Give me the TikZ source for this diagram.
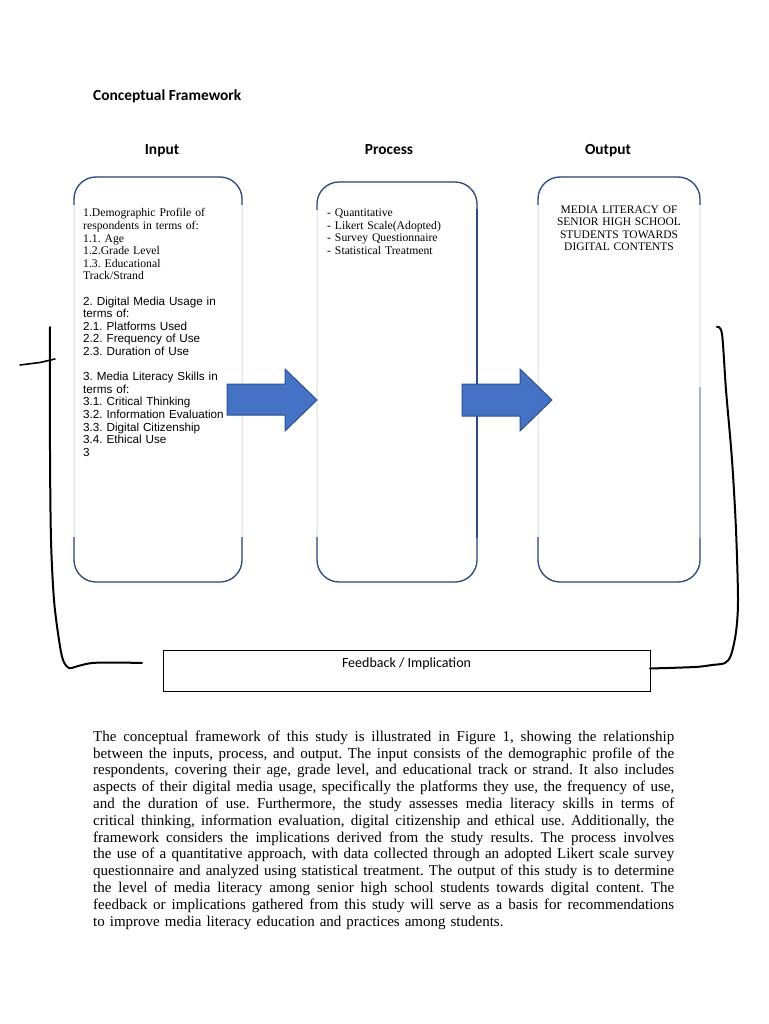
\documentclass[tikz,border=0pt]{standalone}
\usepackage{fontspec}
\setmainfont{Liberation Serif}
\setsansfont{Liberation Sans}
\newfontfamily\calibri{Carlito}
\usetikzlibrary{calc}
\definecolor{boxdark}{HTML}{2F4B7C}
\definecolor{boxmid}{HTML}{A9B4C8}
\definecolor{boxlight}{HTML}{D8DCE3}
\definecolor{arrowfill}{HTML}{4472C4}
\definecolor{arrowedge}{HTML}{2F528F}
\newcommand\jl[1]{\hbox to 581pt{\spaceskip=0.25em plus 0.6em minus 0.06em\relax #1}}
\frenchspacing
\begin{document}
\frenchspacing
\begin{tikzpicture}[x=1pt,y=-1pt,
  frame/.style={inner sep=0pt, outer sep=0pt},
  lightedge/.style={draw=boxlight, line width=1pt, rounded corners=22pt},
  darkedge/.style={draw=boxdark, line width=1.3pt, rounded corners=22pt},
  heading/.style={font=\calibri\bfseries\fontsize{15.4}{18}\selectfont, anchor=base, inner sep=0pt},
  boxtext/.style={inner sep=0pt, font=\fontsize{11.7}{12.6}\selectfont\frenchspacing},
  blockarrow/.style={fill=arrowfill, draw=arrowedge, line width=1pt},
  hand/.style={draw=black, line width=2pt, line cap=round, line join=round},
]
\useasboundingbox (0,0) rectangle (768,1024);
\fill[white] (0,0) rectangle (768,1024);

% title and headings
\node[heading, anchor=base west] (title) at (93,101) {Conceptual Framework};
\node[heading] (hin) at (162,155) {Input};
\node[heading] (hpr) at (389,155) {Process};
\node[heading] (hout) at (608,155) {Output};

% boxes
\node[frame, minimum width=168pt, minimum height=405pt] (in) at (158,379.5) {};
\node[frame, minimum width=160pt, minimum height=400pt] (pr) at (397,382) {};
\node[frame, minimum width=162pt, minimum height=405pt] (out) at (619,379.5) {};

\foreach \b in {in,pr,out}{
  \draw[lightedge] (\b.north west) rectangle (\b.south east);
  \draw[darkedge] ($(\b.north west)+(0,28)$) -- (\b.north west) -- (\b.north east) -- ($(\b.north east)+(0,28)$);
  \draw[darkedge] ($(\b.south west)+(0,-45)$) -- (\b.south west) -- (\b.south east) -- ($(\b.south east)+(0,-45)$);
}
\draw[boxdark, line width=1.3pt] ($(pr.north east)+(0,27)$) -- ($(pr.south east)+(0,-44)$);
\draw[boxmid, line width=1.1pt] ($(out.north east)+(0,210)$) -- ($(out.south east)+(0,-44)$);

% box texts
\node[boxtext, anchor=north west, text width=160pt, align=left] (intext) at (83,208.5)
{1.Demographic Profile of\\
respondents in terms of:\\
1.1. Age\\
1.2.Grade Level\\
1.3. Educational\\
Track/Strand\\[12.6pt]
\sffamily 2. Digital Media Usage in\\
terms of:\\
2.1. Platforms Used\\
2.2. Frequency of Use\\
2.3. Duration of Use\\[12.6pt]
3. Media Literacy Skills in\\
terms of:\\
3.1. Critical Thinking\\
3.2. Information Evaluation\\
3.3. Digital Citizenship\\
3.4. Ethical Use\\
3};

\node[boxtext, anchor=north west, text width=145pt, align=left] (prtext) at (327,208.5)
{- Quantitative\\
- Likert Scale(Adopted)\\
- Survey Questionnaire\\
- Statistical Treatment};

\node[boxtext, anchor=north, text width=150pt, align=center, font=\fontsize{11.5}{12.5}\selectfont] (outtext) at (619,205.5)
{MEDIA LITERACY OF\\
SENIOR HIGH SCHOOL\\
STUDENTS TOWARDS\\
DIGITAL CONTENTS};

% block arrows
\draw[blockarrow] (227,384) -- (285,384) -- (285,369) -- (317,400) -- (285,431) -- (285,415) -- (227,415) -- cycle;
\draw[blockarrow] (462,384) -- (520,384) -- (520,369) -- (552,400) -- (520,431) -- (520,416) -- (462,416) -- cycle;

% feedback box
\node[frame, draw=black, line width=1pt, minimum width=487pt, minimum height=41pt] (fb) at (406.5,670.5) {};
\node[inner sep=0pt, anchor=base, font=\calibri\fontsize{14}{16}\selectfont] (fbtext) at ($(fb.north)+(0,17)$) {Feedback / Implication};

% hand-drawn feedback lines
\coordinate (fbl) at (142,663);
\coordinate (fbr) at ($(fb.east)+(0,-2)$);
\draw[hand] plot[smooth, tension=0.5] coordinates {(50,327) (50,450) (51,540) (54,600) (59,640) (63,660) (69,668) (78,666) (92,663) (115,662.5) (fbl)};
\draw[hand, line width=1.6pt] (20,365) -- (40,362.5) -- (55,359);
\draw[hand] plot[smooth, tension=0.5] coordinates {(717,327) (722,334) (726,390) (732,460) (736,530) (738,600) (736,632) (731,655) (725,663) (712,665) (695,667) (fbr)};

% paragraph
\node[inner sep=0pt, anchor=north west, text width=581pt, align=left, font=\fontsize{15}{16.8}\selectfont\frenchspacing] (para) at (93,730.5)
{\jl{The conceptual framework of this study is illustrated in Figure 1, showing the relationship}
\jl{between the inputs, process, and output. The input consists of the demographic profile of the}
\jl{respondents, covering their age, grade level, and educational track or strand. It also includes}
\jl{aspects of their digital media usage, specifically the platforms they use, the frequency of use,}
\jl{and the duration of use. Furthermore, the study assesses media literacy skills in terms of}
\jl{critical thinking, information evaluation, digital citizenship and ethical use. Additionally, the}
\jl{framework considers the implications derived from the study results. The process involves}
\jl{the use of a quantitative approach, with data collected through an adopted Likert scale survey}
\jl{questionnaire and analyzed using statistical treatment. The output of this study is to determine}
\jl{the level of media literacy among senior high school students towards digital content. The}
\jl{feedback or implications gathered from this study will serve as a basis for recommendations}
\hbox{to improve media literacy education and practices among students.}};
\end{tikzpicture}
\end{document}
